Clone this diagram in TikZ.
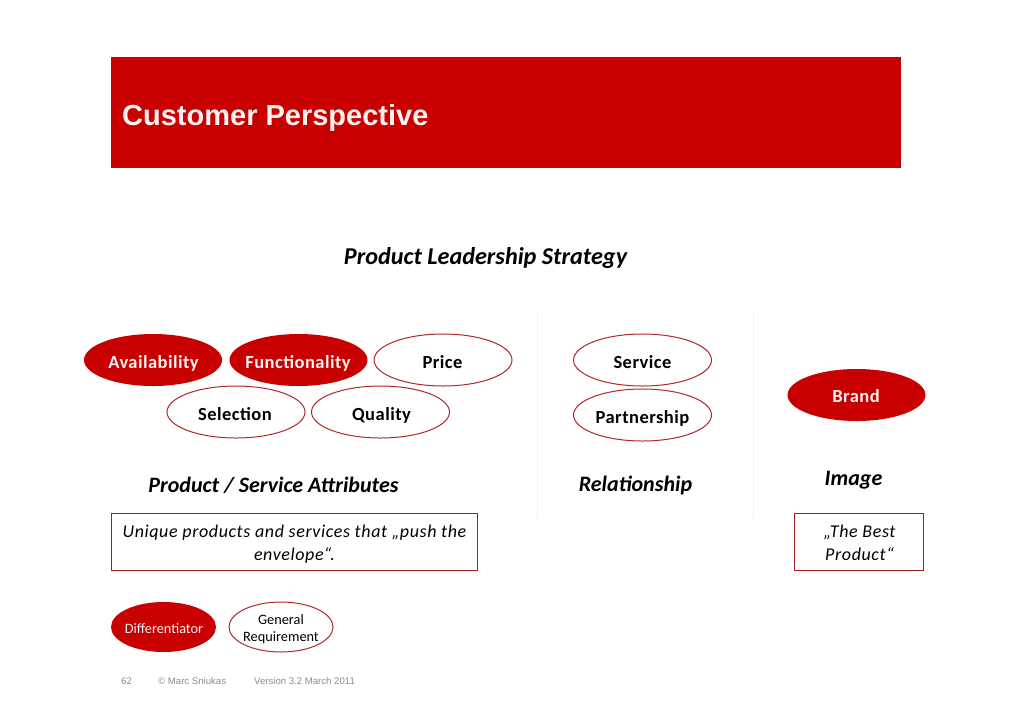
\documentclass[tikz,border=0pt]{standalone}
\usepackage{fontspec}
\setmainfont{Carlito}
\newfontfamily\arialf{Liberation Sans}
\usetikzlibrary{shapes.geometric}
\definecolor{brandred}{RGB}{200,0,0}
\definecolor{edgered}{RGB}{175,40,45}
\definecolor{boxred}{RGB}{165,25,35}
\definecolor{footgray}{RGB}{140,140,140}
\definecolor{sepgray}{RGB}{232,232,232}
\tikzset{
  x=1pt,y=-1pt,
  big/.style={ellipse,inner sep=0pt,minimum width=138pt,minimum height=52pt},
  filledoval/.style={big,fill=brandred},
  openoval/.style={big,draw=edgered,line width=1pt,fill=white},
  ovaltext/.style={inner sep=0pt,anchor=base,font=\fontsize{18.5}{20}\selectfont\bfseries\addfontfeature{LetterSpace=2.5}},
  lighttext/.style={ovaltext,text=white!95!red},
  smallfilled/.style={ellipse,inner sep=0pt,minimum width=105pt,minimum height=50pt,fill=brandred},
  smallopen/.style={ellipse,inner sep=0pt,minimum width=104pt,minimum height=50pt,draw=edgered,line width=1pt},
  smalltext/.style={inner sep=0pt,align=center,font=\fontsize{14.3}{17}\selectfont},
  heading/.style={font=\fontsize{22}{26}\selectfont\bfseries\itshape,inner sep=0pt,anchor=base},
  quotebox/.style={draw=boxred,line width=1pt,inner sep=0pt,minimum height=57pt},
  quotetext/.style={inner sep=0pt,align=center,font=\fontsize{18}{23}\selectfont\itshape\addfontfeature{LetterSpace=3.4}},
  foot/.style={font=\arialf\fontsize{9.6}{12}\selectfont,text=footgray,inner sep=0pt,anchor=west},
  sep/.style={draw=sepgray,line width=0.6pt,densely dotted}
}
\begin{document}
\begin{tikzpicture}
\useasboundingbox (0,0) rectangle (1024,724);
\fill[white] (0,0) rectangle (1024,724);
\node[fill=brandred,minimum width=790pt,minimum height=111pt,inner sep=0pt] (banner) at (506,112.5) {};
\node[font=\arialf\fontsize{29}{34}\selectfont\bfseries,text=white!95!red,inner sep=0pt,anchor=base west] (title) at (122,125) {Customer Perspective};
\node[heading,font=\fontsize{24.2}{28}\selectfont\bfseries\itshape] (strategy) at (485.5,264) {Product Leadership Strategy};
\coordinate (s1a) at (537,312); \coordinate (s1b) at (537,518);
\coordinate (s2a) at (753,312); \coordinate (s2b) at (753,518);
\draw[sep] (s1a) -- (s1b);
\draw[sep] (s2a) -- (s2b);
\node[openoval] (price) at (443,360) {};
\node[filledoval] (avail) at (153,360) {};
\node[filledoval] (func) at (298.5,360) {};
\node[openoval] (selection) at (236,412) {};
\node[openoval] (quality) at (380.5,412) {};
\node[openoval] (service) at (642.5,360) {};
\node[openoval] (partner) at (642.5,415) {};
\node[filledoval] (brand) at (856.5,395) {};
\node[ovaltext] (tprice) at (442.5,368) {Price};
\node[lighttext] (tavail) at (153.5,368) {Availability};
\node[lighttext] (tfunc) at (298,368) {Functionality};
\node[ovaltext] (tsel) at (235,420) {Selection};
\node[ovaltext] (tqual) at (381.5,420) {Quality};
\node[ovaltext] (tserv) at (642.5,368) {Service};
\node[ovaltext] (tpart) at (642.5,423) {Partnership};
\node[lighttext] (tbrand) at (856,402) {Brand};
\node[heading] (psa) at (273.5,492.5) {Product / Service Attributes};
\node[heading] (rel) at (635.5,491) {Relationship};
\node[heading] (image) at (853.5,485) {Image};
\node[quotebox,minimum width=366pt] (uniq) at (294.5,542) {};
\node[quotebox,minimum width=129pt] (best) at (859,542) {};
\node[quotetext] (tuniq) at (294.5,544.3) {Unique products and services that „push the\\envelope“.};
\node[quotetext] (tbest) at (859.5,542.7) {„The Best\\Product“};
\node[smallfilled] (diff) at (163.5,627) {};
\node[smallopen] (gen) at (281,627) {};
\node[smalltext,text=white!95!red,anchor=base] (tdiff) at (164,633) {Differentiator};
\node[smalltext] (tgen) at (281,629.2) {General\\Requirement};
\node[foot] (num) at (121,681) {62};
\node[foot] (copy) at (158,681) {© Marc Sniukas};
\node[foot] (ver) at (254,681) {Version 3.2 March 2011};
\end{tikzpicture}
\end{document}
